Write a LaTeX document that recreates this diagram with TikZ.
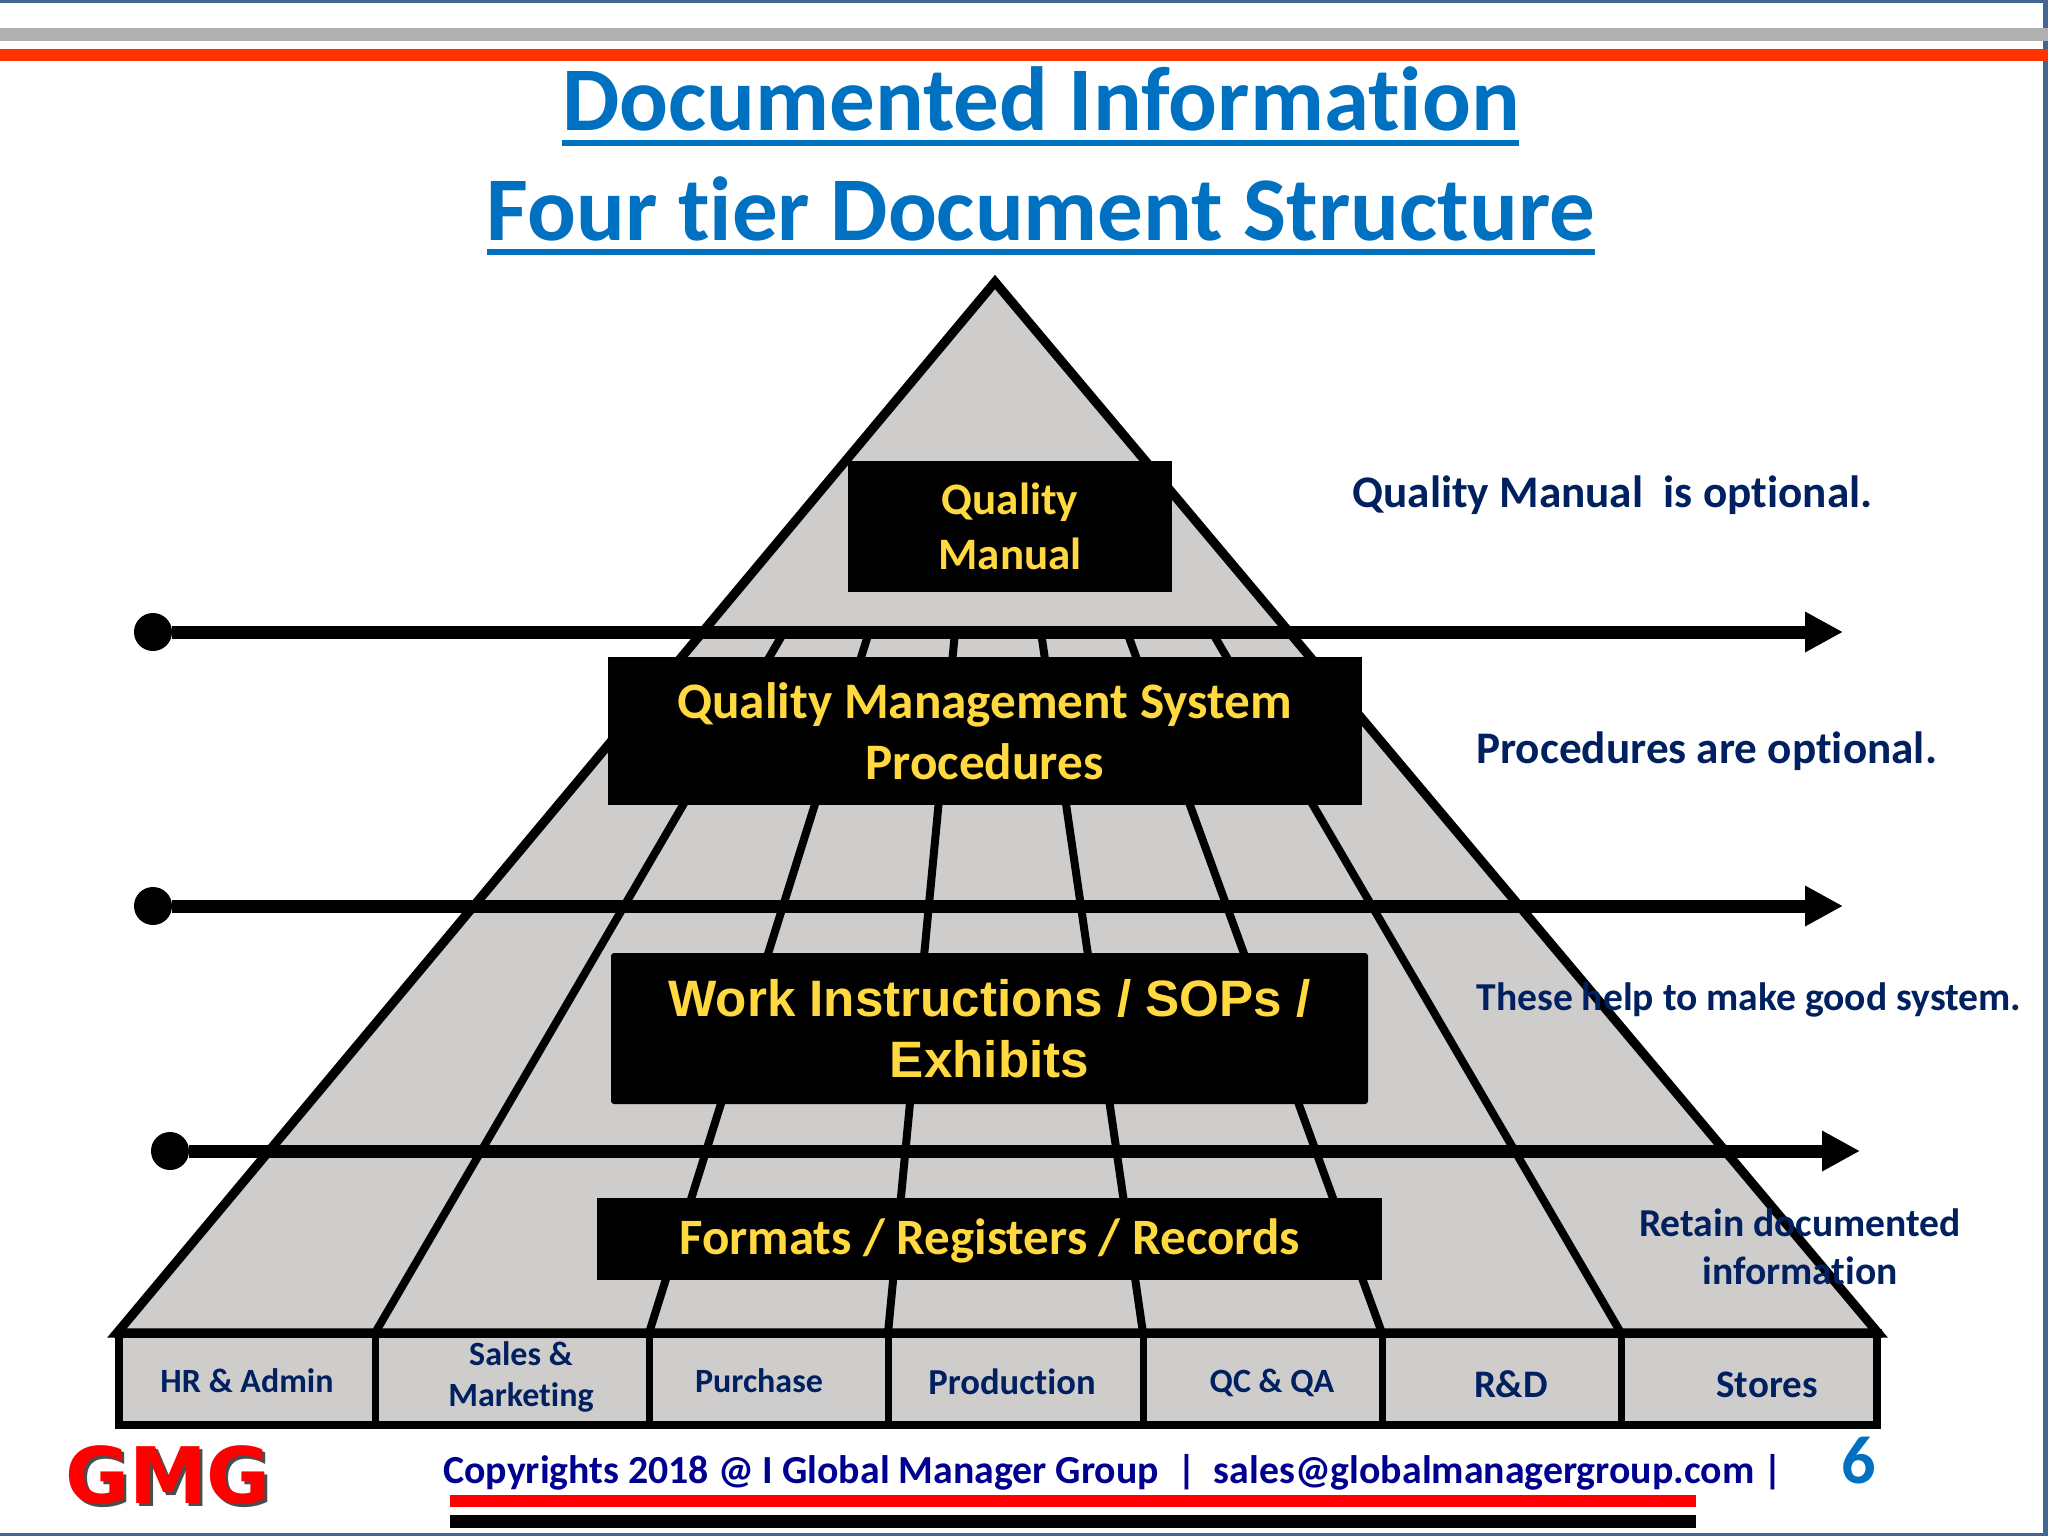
\documentclass[tikz,border=0pt]{standalone}
\usepackage{fontspec}
\setmainfont{Carlito}[Ligatures=NoCommon]
\newfontfamily\arialfont{Liberation Sans}
\newfontfamily\logofont{DejaVu Sans}
\usetikzlibrary{arrows.meta,calc}
\definecolor{framecol}{HTML}{41668F}
\definecolor{rulegray}{HTML}{B0B0B0}
\definecolor{ruleorange}{HTML}{FF3300}
\definecolor{titleblue}{HTML}{0070C0}
\definecolor{pyrgray}{HTML}{CFCDCB}
\definecolor{labelnavy}{HTML}{002060}
\definecolor{footnavy}{HTML}{000090}
\definecolor{boxyellow}{HTML}{FFD93F}
\tikzset{
  title/.style={inner sep=0,anchor=base,text=titleblue,font=\fontsize{45.5}{50}\selectfont\bfseries},
  side/.style={inner sep=0,anchor=base west,text=labelnavy,font=\fontsize{22.6}{24}\selectfont\bfseries},
  sidesmall/.style={side,font=\fontsize{19.8}{24}\selectfont\bfseries},
  dept/.style={inner sep=0,anchor=base,text=labelnavy,font=\fontsize{17}{20.5}\selectfont\bfseries},
  deptbig/.style={dept,font=\fontsize{19.5}{22}\selectfont\bfseries},
  tier/.style={fill=black,text=boxyellow,inner sep=0,align=center},
  pyrline/.style={line width=4.6pt,line join=miter},
  radial/.style={line width=4pt},
  wall/.style={line width=3.5pt},
  flow/.style={line width=6.5pt,-{Triangle[length=19pt,width=19pt]}},
  dot/.style={circle,fill=black,inner sep=0,minimum size=19pt},
}
\begin{document}
\begin{tikzpicture}[x=0.5pt,y=-0.5pt]
\useasboundingbox (0,0) rectangle (2048,1536);
% page rules
\fill[framecol] (0,0) rectangle (2048,3);
\fill[framecol] (2043,0) rectangle (2048,1536);
\fill[framecol] (0,1533) rectangle (2048,1536);
\fill[rulegray] (0,28) rectangle (2048,41);
\fill[ruleorange] (0,49) rectangle (2048,61);
% heading
\node[title] (head1) at (1041,130) {Documented Information};
\node[title] (head2) at (1041,240) {Four tier Document Structure};
\fill[titleblue] (562,140) rectangle (1519,146);
\fill[titleblue] (487,249) rectangle (1595,255);
% pyramid
\coordinate (apex) at (995,282);
\coordinate (baseL) at (117,1333);
\coordinate (baseR) at (1878,1333);
\filldraw[fill=pyrgray,pyrline] (baseL) -- (apex) -- (baseR) -- cycle;
\foreach \n/\x/\u in {1/375/784,2/649/869,3/888/955,4/1143/1041,5/1382/1127,6/1621/1212} {
  \coordinate (b\n) at (\x,1333);
  \coordinate (u\n) at (\u,632);
  \draw[radial] (b\n) -- (u\n);
}
% department row
\filldraw[fill=pyrgray,line width=4pt] (119,1333) rectangle (1877,1425);
\draw[line width=4.5pt] (baseL) ++(-3,0) -- ($(baseR)+(4,0)$);
\foreach \n in {1,...,6}
  \draw[wall] (b\n) -- ($(b\n)+(0,92)$);
\foreach \x/\y/\t in {247/1392/HR \& Admin,759/1392/Purchase,1272/1392/QC \& QA}
  \node[dept] (d\x) at (\x,\y) {\t};
\node[dept,font=\fontsize{18.3}{20}\selectfont\bfseries] (dprod) at (1012,1394) {Production};
\node[deptbig] (drd) at (1511,1397) {R\&D};
\node[deptbig] (dstores) at (1767,1397) {Stores};
\node[dept,anchor=center,align=center] (dsales) at (521,1377) {Sales \&\\Marketing};
% tier lines
\node[dot] (d1) at (153,632) {};
\node[dot] (d2) at (153,906) {};
\node[dot] (d3) at (170,1151) {};
\coordinate (t1) at (1843,632);
\coordinate (t2) at (1843,906);
\coordinate (t3) at (1860,1151);
\foreach \n in {1,2,3}
  \draw[flow] (d\n) -- (t\n);
% tiers
\node[tier,minimum width=162pt,minimum height=65.5pt,font=\fontsize{22.5}{27.5}\selectfont\bfseries] (qm) at (1010,526.5) {Quality\\Manual};
\node[tier,minimum width=377pt,minimum height=74pt,font=\fontsize{25.6}{30.5}\selectfont\bfseries] (qms) at (984.5,731) {Quality Management System\\Procedures};
\node[tier,rounded corners=1.5pt,minimum width=378.5pt,minimum height=75.5pt,font=\arialfont\fontsize{25.6}{30.5}\selectfont\bfseries] (wi) at (989.5,1028.5) {Work Instructions / SOPs /\\Exhibits};
\node[tier,minimum width=392.5pt,minimum height=41pt,text height=20pt,text depth=5pt,font=\fontsize{25.5}{28}\selectfont\bfseries] (fr) at (989.5,1239) {Formats / Registers / Records};
% side notes
\node[side] (n1) at (1352,507) {Quality Manual\ \ is optional.};
\node[side] (n2) at (1476,763) {Procedures are optional.};
\node[sidesmall] (n3) at (1476,1010) {These help to make good system.};
\node[sidesmall,anchor=center,align=center] (n4) at (1800,1247) {Retain documented\\information};
% footer
\node[inner sep=0,anchor=base west,text=footnavy,font=\fontsize{19.9}{22}\selectfont\bfseries] (foot) at (443,1483) {Copyrights 2018 @ I Global Manager Group\ \ |\ \ sales@globalmanagergroup.com |};
\fill[red] (450,1495) rectangle (1696,1507);
\fill[black] (450,1515) rectangle (1696,1528);
\node[inner sep=0,anchor=base,text=titleblue,font=\fontsize{34}{40}\selectfont\bfseries] (pageno) at (1859,1483) {6};
\node[inner sep=0,anchor=base,text=black!70,font=\logofont\fontsize{39}{44}\selectfont\bfseries] (logoshade) at (171,1506) {GMG};
\node[inner sep=0,anchor=base,text=red,font=\logofont\fontsize{39}{44}\selectfont\bfseries] (logo) at (168,1503) {GMG};
\end{tikzpicture}
\end{document}
